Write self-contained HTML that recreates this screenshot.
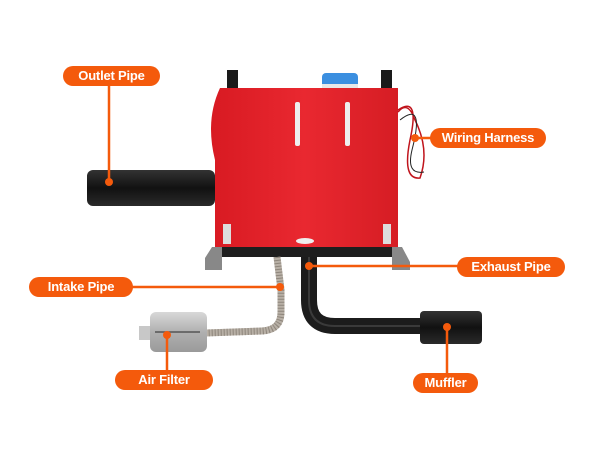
<!DOCTYPE html>
<html><head><style>
html,body{margin:0;padding:0;background:#fff;}
.wrap{position:relative;width:600px;height:450px;overflow:hidden;font-family:"Liberation Sans",Arial,sans-serif;}
.lbl{position:absolute;background:#f45a0c;color:#fff;font-size:13px;font-weight:bold;line-height:20px;height:20px;border-radius:10px;text-align:center;letter-spacing:-0.2px;}
</style></head><body><div class="wrap">
<svg width="600" height="450" style="position:absolute;left:0;top:0">
<defs>
<linearGradient id="red" x1="0" x2="1"><stop offset="0" stop-color="#d81a22"/><stop offset="0.5" stop-color="#e92830"/><stop offset="1" stop-color="#d61d24"/></linearGradient>
<linearGradient id="blk" x1="0" y1="0" x2="0" y2="1"><stop offset="0" stop-color="#333"/><stop offset="0.5" stop-color="#111"/><stop offset="1" stop-color="#2a2a2a"/></linearGradient>
<linearGradient id="flt" x1="0" y1="0" x2="0" y2="1"><stop offset="0" stop-color="#d8d8d8"/><stop offset="0.5" stop-color="#b0b0b0"/><stop offset="1" stop-color="#9a9a9a"/></linearGradient>
</defs>
<rect x="87" y="170" width="128" height="36" rx="6" fill="url(#blk)"/>
<rect x="227" y="70" width="11" height="20" fill="#1a1a1a"/>
<rect x="381" y="70" width="11" height="20" fill="#1a1a1a"/>
<rect x="322" y="73" width="36" height="15" rx="4" fill="#3b8fe0"/>
<rect x="322" y="84" width="36" height="5" fill="#e8e8e8"/>
<path d="M220 88 L398 88 L398 248 L215 248 L215 160 Q205 120 220 88 Z" fill="url(#red)"/>
<rect x="295" y="102" width="5" height="44" rx="2" fill="#eee"/>
<rect x="345" y="102" width="5" height="44" rx="2" fill="#eee"/>
<rect x="223" y="224" width="8" height="20" fill="#ddd"/>
<rect x="383" y="224" width="8" height="20" fill="#ddd"/>
<ellipse cx="305" cy="241" rx="9" ry="3" fill="#eee"/>
<rect x="215" y="247" width="183" height="10" fill="#1e1e1e"/>
<path d="M205 258 L212 247 L222 247 L222 270 L205 270 Z" fill="#888"/>
<path d="M392 247 L402 247 L410 262 L410 270 L392 270 Z" fill="#888"/>
<path d="M277 257 L281 290 L281 312 Q281 330 262 331 L206 333" fill="none" stroke="#b8b0a6" stroke-width="7"/>
<path d="M277 257 L281 290 L281 312 Q281 330 262 331 L206 333" fill="none" stroke="#8e867c" stroke-width="7" stroke-dasharray="1 2"/>
<rect x="139" y="326" width="14" height="14" fill="#c8c8c8"/>
<rect x="150" y="312" width="57" height="40" rx="6" fill="url(#flt)"/>
<line x1="155" y1="332" x2="200" y2="332" stroke="#555" stroke-width="1.5"/>
<path d="M309 257 L309 300 Q309 326 335 326 L425 326" fill="none" stroke="#1c1c1c" stroke-width="16"/>
<path d="M309 257 L309 300 Q309 326 335 326 L425 326" fill="none" stroke="#3a3a3a" stroke-width="2"/>
<rect x="420" y="311" width="62" height="33" rx="4" fill="url(#blk)"/>
<path d="M398 110 Q420 95 410 140 Q402 180 420 178 Q430 150 415 120 Q408 100 398 112" fill="none" stroke="#c0141c" stroke-width="1.5"/>
<path d="M400 120 Q425 100 412 150 Q406 175 424 172" fill="none" stroke="#222" stroke-width="1"/>
<g stroke="#f45a0c" stroke-width="2.5" fill="none">
<line x1="109" y1="86" x2="109" y2="182"/>
<line x1="415" y1="138" x2="432" y2="138"/>
<line x1="309" y1="266" x2="460" y2="266"/>
<line x1="130" y1="287" x2="280" y2="287"/>
<line x1="167" y1="335" x2="167" y2="372"/>
<line x1="447" y1="327" x2="447" y2="375"/>
</g>
<g fill="#f45a0c">
<circle cx="109" cy="182" r="4"/><circle cx="415" cy="138" r="4"/>
<circle cx="309" cy="266" r="4"/><circle cx="280" cy="287" r="4"/>
<circle cx="167" cy="335" r="4"/><circle cx="447" cy="327" r="4"/>
</g>
</svg>
<div class="lbl" style="left:63px;top:66px;width:97px;">Outlet Pipe</div>
<div class="lbl" style="left:430px;top:128px;width:116px;">Wiring Harness</div>
<div class="lbl" style="left:457px;top:257px;width:108px;">Exhaust Pipe</div>
<div class="lbl" style="left:29px;top:277px;width:104px;">Intake Pipe</div>
<div class="lbl" style="left:115px;top:370px;width:98px;">Air Filter</div>
<div class="lbl" style="left:413px;top:373px;width:65px;">Muffler</div>
</div></body></html>
